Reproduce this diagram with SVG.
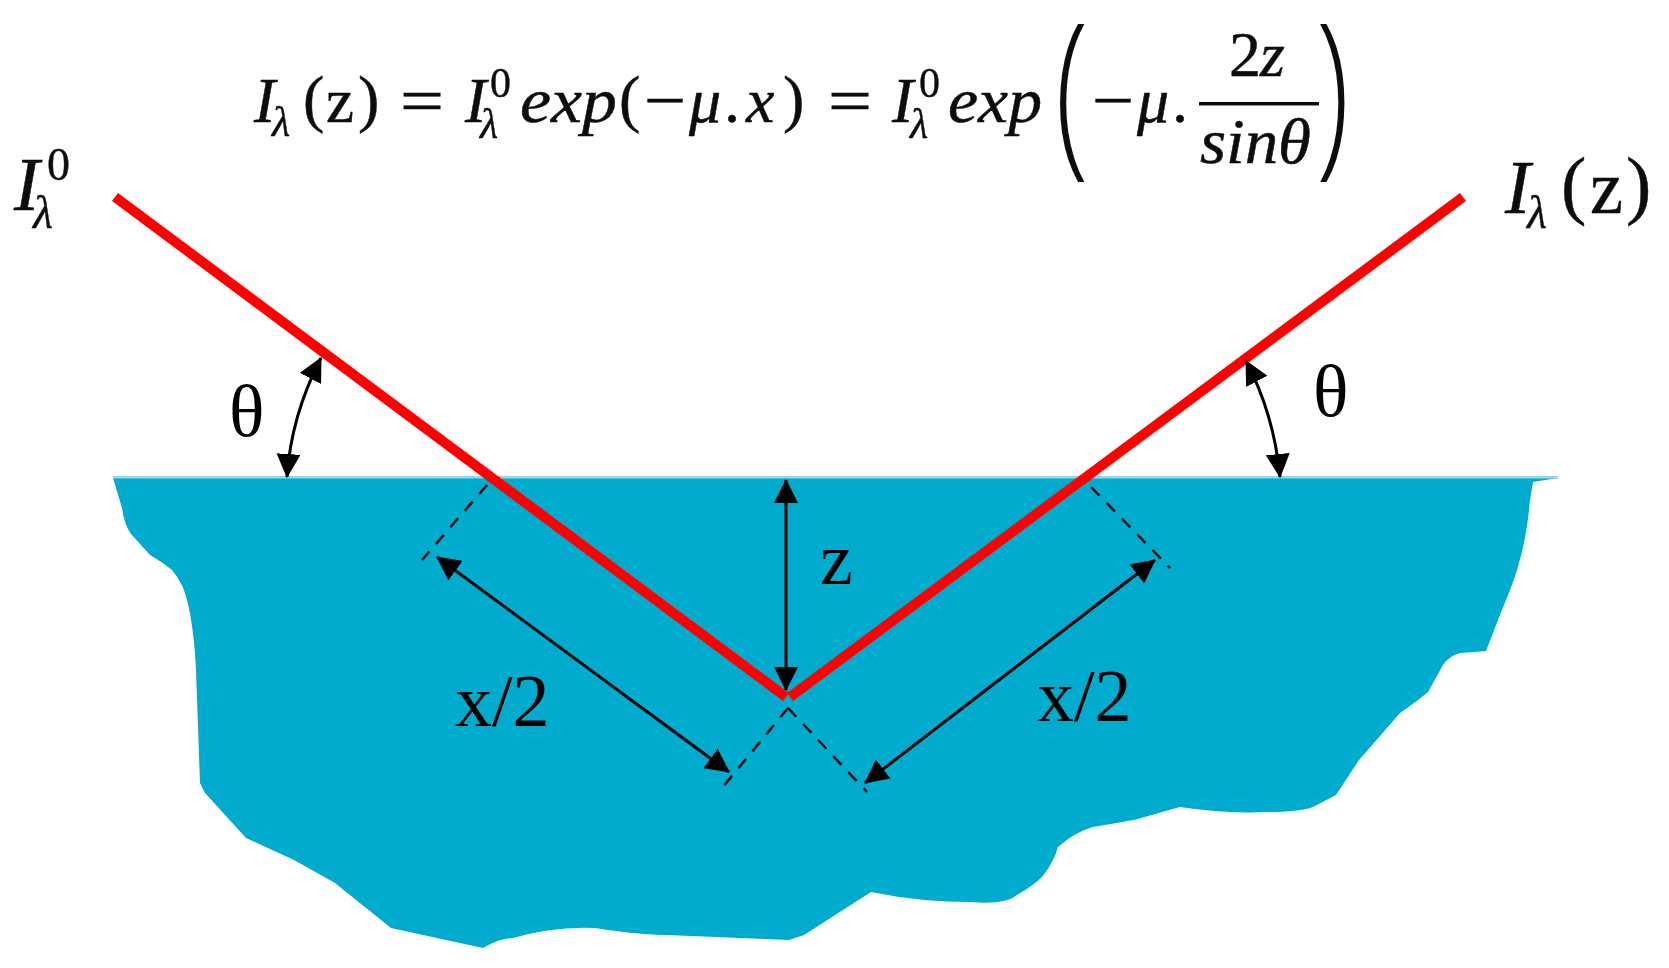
<svg xmlns="http://www.w3.org/2000/svg" width="1669" height="968" viewBox="0 0 1669 968">
<style>
text{font-family:"Liberation Serif","Times New Roman",serif;fill:#111}
.i{font-style:italic}
.m{font-size:64px;stroke:#111;stroke-width:.5}.s{font-size:42px;stroke:#111;stroke-width:.4}
.r{font-size:76px;stroke:#111;stroke-width:.5}.rs{font-size:46px;stroke:#111;stroke-width:.4}
.lbl{font-size:74px;fill:#000}
.big{font-family:"Open Sans","Liberation Sans",sans-serif;font-weight:300;font-size:181px}
.ray{stroke:#f00;stroke-width:10;fill:none}
.dim{stroke:#000;stroke-width:3;fill:none;marker-start:url(#ah);marker-end:url(#ah)}
.dash{stroke:#000;stroke-width:2.4;fill:none;stroke-dasharray:12 10}
</style>
<defs>
<marker id="ah" markerUnits="userSpaceOnUse" markerWidth="24" markerHeight="24" refX="23" refY="12" orient="auto-start-reverse" viewBox="0 0 24 24"><path d="M0 0L24 12L0 24Z" fill="#000"/></marker>
<filter id="soft" x="0" y="0" width="100%" height="100%"><feGaussianBlur stdDeviation="0.7"/></filter>
</defs>
<g filter="url(#soft)">
<g id="medium">
<path fill="#00abcd" d="M113 478L122 508Q124 524 131 534L150 555Q162 562 172 570Q184 584 188 604Q194 630 196 670L200 783L205 793L246 838L294 860L335 883L391 928L483 948Q500 938 513 938Q555 926 595 928Q640 935 667 935L789 940L804 935L871 892Q920 902 971 902Q1005 905 1017 895Q1034 885 1042 877Q1054 862 1058 847Q1075 832 1093 827L1134 820L1180 807Q1225 814 1267 812Q1300 812 1313 807L1336 795L1359 760L1400 713Q1416 702 1428 692L1443 665Q1450 655 1461 653L1486 651L1498 620L1510 590Q1526 550 1530 500L1533 482L1558 478Z"/>
<rect x="113" y="476" width="1445" height="2.500" fill="#8fd9e9"/>
</g>
<g id="connectors">
<path class="ray" d="M115 197L786 697"/>
<path class="ray" d="M1463 197L790 697"/>
<path class="dim" d="M786 480V690"/>
<path class="dim" d="M437 557L729 772"/>
<path class="dim" d="M1155 560L865 783"/>
<path class="dim" d="M321 358Q291 416 287 477"/>
<path class="dim" d="M1246 361Q1274 414 1280 477"/>
<path class="dash" d="M487 485L422 560"/>
<path class="dash" d="M788 708L722 788"/>
<path class="dash" d="M788 708L867 792"/>
<path class="dash" d="M1091 487L1170 568"/>
</g>
<g id="formula">
<text class="m i" x="254" y="122">I</text><text class="s i" x="272" y="136">λ</text>
<text class="m" x="303" y="120">(</text><text class="m" x="326" y="122" textLength="28" lengthAdjust="spacingAndGlyphs">z</text><text class="m" x="358" y="120">)</text>
<text class="m" x="400" y="122" textLength="44" lengthAdjust="spacingAndGlyphs">=</text>
<text class="m i" x="465" y="122">I</text><text class="s i" x="480" y="138">λ</text><text class="s" x="490" y="97">0</text>
<text class="m i" x="520" y="122" textLength="97" lengthAdjust="spacingAndGlyphs">exp</text>
<text class="m" x="619" y="120">(</text><text class="m" x="644" y="122" textLength="42" lengthAdjust="spacingAndGlyphs">−</text>
<text class="m i" x="689" y="122">μ</text><text class="m" x="724" y="122">.</text><text class="m i" x="746" y="122">x</text><text class="m" x="783" y="120">)</text>
<text class="m" x="828" y="122" textLength="44" lengthAdjust="spacingAndGlyphs">=</text>
<text class="m i" x="892" y="122">I</text><text class="s i" x="910" y="138">λ</text><text class="s" x="919" y="97">0</text>
<text class="m i" x="948" y="122" textLength="94" lengthAdjust="spacingAndGlyphs">exp</text>
<text class="big" transform="translate(1055 153) scale(.68 1)">(</text>
<text class="m" x="1092" y="122" textLength="42" lengthAdjust="spacingAndGlyphs">−</text>
<text class="m i" x="1137" y="122">μ</text><text class="m" x="1172" y="122">.</text>
<text class="m" x="1229" y="76">2</text><text class="m i" x="1260" y="76">z</text>
<rect x="1199" y="102" width="120" height="3.500" fill="#111"/>
<text class="m i" x="1200" y="163" textLength="111" lengthAdjust="spacingAndGlyphs">sinθ</text>
<text class="big" transform="translate(1316 153) scale(.68 1)">)</text>
</g>
<g id="label-incident">
<text class="r i" x="14" y="210">I</text><text class="rs i" x="33" y="228">λ</text><text class="rs" x="47" y="180">0</text>
</g>
<g id="label-reflected">
<text class="r i" x="1505" y="213">I</text><text class="rs i" x="1527" y="228">λ</text>
<text class="r" x="1561" y="210">(</text><text class="r" x="1590" y="213" textLength="33" lengthAdjust="spacingAndGlyphs">z</text><text class="r" x="1626" y="210">)</text>
</g>
<g id="label-theta-left"><text class="lbl" x="229" y="436">θ</text></g>
<g id="label-theta-right"><text class="lbl" x="1313" y="416">θ</text></g>
<g id="label-z"><text class="lbl" x="820" y="584">z</text></g>
<g id="label-x-left"><text class="lbl" x="455" y="726">x/2</text></g>
<g id="label-x-right"><text class="lbl" x="1037" y="721">x/2</text></g>
</g>
</svg>
